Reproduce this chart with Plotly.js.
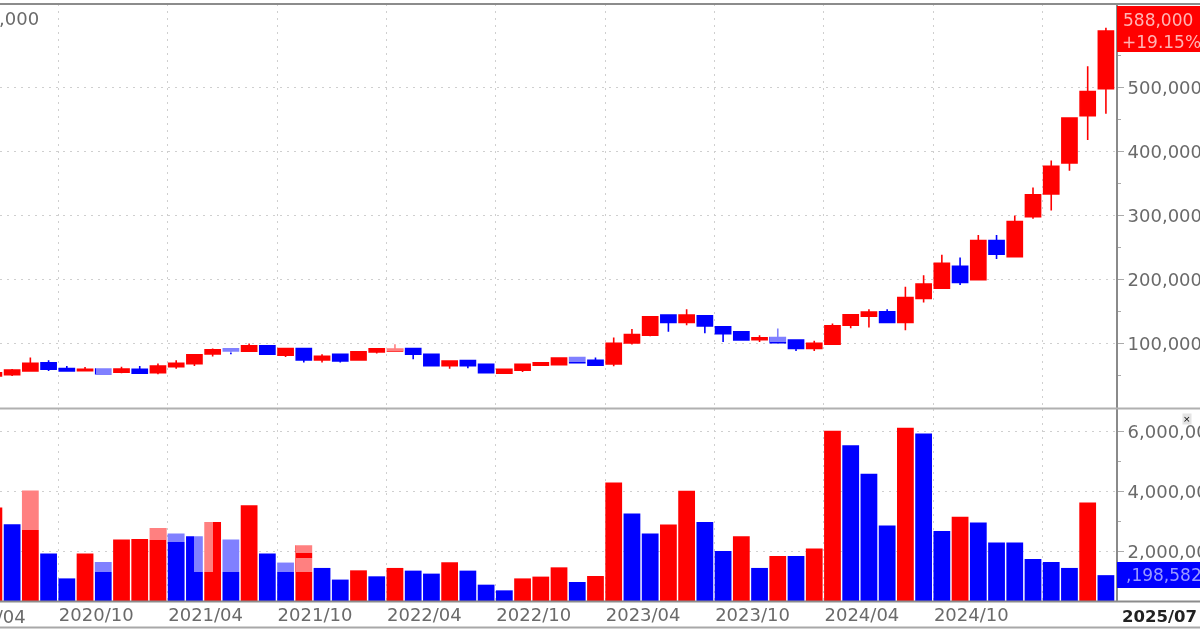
<!DOCTYPE html>
<html><head><meta charset="utf-8">
<script src="https://cdn.plot.ly/plotly-3.0.1.min.js"></script>
<style>html,body{margin:0;padding:0;background:#fff;overflow:hidden}#c{width:1200px;height:630px;filter:blur(.5px)}</style>
</head><body><div id="c"></div>
<script>
const months=["2020/06","2020/07","2020/08","2020/09","2020/10","2020/11","2020/12","2021/01","2021/02","2021/03","2021/04","2021/05","2021/06","2021/07","2021/08","2021/09","2021/10","2021/11","2021/12","2022/01","2022/02","2022/03","2022/04","2022/05","2022/06","2022/07","2022/08","2022/09","2022/10","2022/11","2022/12","2023/01","2023/02","2023/03","2023/04","2023/05","2023/06","2023/07","2023/08","2023/09","2023/10","2023/11","2023/12","2024/01","2024/02","2024/03","2024/04","2024/05","2024/06","2024/07","2024/08","2024/09","2024/10","2024/11","2024/12","2025/01","2025/02","2025/03","2025/04","2025/05","2025/06","2025/07"];
const openK=[50,52,57.8,70.3,61.4,58.3,60.9,55.8,60.5,55.2,64.5,69.2,84.4,92.2,88.6,96.9,82.3,92.7,75,83.9,75,87.5,89,92.7,83.9,66,74,68.3,54.2,58.9,66.7,67.7,78.6,74.5,68.8,101.6,113.6,144.8,133.3,143.8,126.6,119,106.7,109.9,105.8,92.7,99.5,129,143.3,150,133.3,170.8,187,220.8,200,261,236,298.4,333.9,382.3,456,498];
const highK=[56,61,78.6,74.5,65.6,64,61.5,64.5,65.6,69.2,74.5,83.5,92.7,92.5,100.5,97,93,93,83.9,84.5,88,93,99.5,93,84.5,74,74.5,69,61,69,71,78,79,78.6,109.9,123,143,146,154,145,128,120,113.6,124,106,104.7,131.7,146,154,154,189,207,239,234.8,269.8,269.8,300,344,386,453,532.8,593];
const lowK=[49,50,57,57.8,57,56.8,53,54.2,53,52.6,61.4,65.6,80.2,83.9,88,83.9,79.7,70.8,70.8,71,74,84.8,88,76,66,61.4,62,55,53,56,66,67,70,66,65,99,112,119,129,116.7,103,105,103,102,89,89,99,124.5,125.5,133,121.4,164.5,186,191.7,199,232.3,235,295,307.8,370,418,459];
const closeK=[55,59,69.8,60.5,57.8,60.5,53.6,60.9,54.2,65.6,69.8,82.8,90.6,89,96.9,83.9,92.7,75,80.8,73.4,87.5,92.2,92,83.9,66,73.4,66,55.2,60.5,68.3,70.3,77.7,70.8,66.7,101,114.5,142.2,133.3,144.8,128,116,106,109.4,102,92.7,101,128,145.3,149.5,133.3,172.3,193.3,225.5,195.8,261,240,290.6,332.3,377,452,493.3,588];
const volumeM=[3.46,2.90,4.02,1.92,1.09,1.92,1.64,2.39,2.41,2.78,2.59,2.50,2.98,2.39,3.54,1.92,1.62,2.20,1.44,1.05,1.36,1.16,1.44,1.35,1.25,1.63,1.35,0.88,0.69,1.09,1.15,1.46,0.97,1.17,4.30,3.26,2.59,2.89,4.02,2.98,2.01,2.50,1.44,1.84,1.84,2.09,6.03,5.55,4.59,2.86,6.13,5.94,2.68,3.15,2.96,2.29,2.29,1.74,1.64,1.44,3.63,1.198582];
const volumeUp=[1,0,1,0,0,1,0,1,1,1,0,0,1,0,1,0,0,1,0,0,1,0,1,0,0,1,0,0,0,1,1,1,0,1,1,0,0,1,1,0,0,1,0,1,0,1,1,0,0,0,1,0,0,1,0,0,0,0,0,0,1,0];
const tickMonths=["2020/10","2021/04","2021/10","2022/04","2022/10","2023/04","2023/10","2024/04","2024/10","2025/04"];
const tickLabels=["2020/10","2021/04","2021/10","2022/04","2022/10","2023/04","2023/10","2024/04","2024/10",""];
const priceTicks=[100000,200000,300000,400000,500000];
const priceMinor=[50000,150000,250000,350000,450000,550000];
const volTicks=[2000000,4000000,6000000];
const volMinor=[3000000,5000000];

const RED='#ff0000',BLUE='#0000ff',GRID='#cfcfcf',TXT='#6a6a6a',AXIS='#8a8a8a';
const FONT='"DejaVu Sans", sans-serif';
const idx=months.map((_,i)=>i);
const W=1200,H=630,L=0,R=84,T=4,B=28,pw=W-L-R,ph=H-T-B;
const px=x=>(x-L)/pw, py=y=>1-(y-T)/ph;
const fmt=v=>v.toLocaleString('en-US');

const pale=(x0,x1,y0,y1)=>({type:'rect',xref:'paper',yref:'paper',x0:px(x0),x1:px(x1),y0:py(y1),y1:py(y0),fillcolor:'#fff',opacity:.5,line:{width:0}});
const hline=(y,c,w)=>({type:'line',xref:'paper',yref:'paper',x0:px(0),x1:px(W),y0:py(y),y1:py(y),line:{color:c,width:w}});
const box=(y0,y1,c)=>({type:'rect',xref:'paper',yref:'paper',x0:px(1117),x1:px(W+2),y0:py(y1),y1:py(y0),fillcolor:c,line:{width:0}});
const note=(x,y,text,extra)=>Object.assign({xref:'paper',yref:'paper',x:px(x),y:py(y),text,showarrow:false,xanchor:'left',yanchor:'middle',font:{family:FONT,size:18,color:TXT}},extra||{});

const shapes=[
 pale(22,39,491,530),pale(95,113,560,572),pale(148,166,527,540),pale(168,185,533,542),
 pale(194,213,520,572),pale(221,240,520,572),pale(277,295,562,572),pale(296,313,545,553),pale(296,313,558,572),
 pale(96,113,367,374),pale(222,240,346,353),pale(386,403,342,351),pale(569,586,355,362),pale(770,787,326,342),
 box(6,52,RED),box(562,588,BLUE),
 hline(4,'#8c8c8c',2),hline(408.5,'#b0b0b0',2),hline(601.5,'#8c8c8c',2),hline(627.5,'#a8a8a8',2)
];
const annotations=[
 note(-51,616,'2020/04'),
 note(1120,616,'2025/07',{font:{family:FONT,size:16.5,color:'#222',weight:'bold'}}),
 note(-3,19,',000'),
 note(1121,20,'588,000',{font:{family:FONT,size:17,color:'#ffb4b4'}}),
 note(1120,42,'+19.15%',{font:{family:FONT,size:17,color:'#ffb4b4'}}),
 note(1124,575,',198,582',{font:{family:FONT,size:17,color:'#9a9aff'}}),
 note(1187,419,'×',{xanchor:'center',font:{family:FONT,size:9,color:'#000'},bgcolor:'#e4e4e4',borderpad:0})
];
const traces=[
 {type:'candlestick',x:idx,open:openK.map(v=>v*1000),high:highK.map(v=>v*1000),low:lowK.map(v=>v*1000),close:closeK.map(v=>v*1000),xaxis:'x',yaxis:'y',whiskerwidth:0,
  increasing:{line:{color:RED,width:1.6},fillcolor:RED},decreasing:{line:{color:BLUE,width:1.6},fillcolor:BLUE},showlegend:false,hoverinfo:'skip'},
 {type:'bar',x:idx,y:volumeM.map(v=>v*1e6),xaxis:'x',yaxis:'y2',width:.92,marker:{color:volumeUp.map(u=>u?RED:BLUE),line:{width:0}},showlegend:false,hoverinfo:'skip'}
];
const yCommon={side:'right',anchor:'x',showline:true,linecolor:AXIS,linewidth:2,ticks:'outside',ticklen:6,tickwidth:1,tickcolor:'#aaa',
  tickfont:{family:FONT,size:18,color:TXT},showgrid:true,gridcolor:GRID,griddash:'2px,5px',gridwidth:1,zeroline:false,tickmode:'array',automargin:false};
const layout={width:W,height:H,margin:{l:L,r:R,t:T,b:B,pad:0},paper_bgcolor:'#fff',plot_bgcolor:'#fff',showlegend:false,boxgap:.17,boxgroupgap:0,bargap:.08,
 xaxis:{range:[.335,61.553],anchor:'y2',tickmode:'array',tickvals:tickMonths.map(m=>months.indexOf(m)-.47),ticktext:tickLabels,ticklabelshift:38,
   ticks:'',showline:false,showgrid:true,gridcolor:GRID,griddash:'2px,5px',zeroline:false,rangeslider:{visible:false},
   tickfont:{family:FONT,size:18,color:TXT},automargin:false,ticklabeloverflow:'allow'},
 yaxis:Object.assign({},yCommon,{domain:[py(408),1],range:[0,630000],tickvals:priceTicks,ticktext:priceTicks.map(fmt),
   minor:{tickmode:'array',tickvals:priceMinor,ticks:'outside',ticklen:3,tickcolor:'#aaa',showgrid:false}}),
 yaxis2:Object.assign({},yCommon,{domain:[0,py(409)],range:[300000,6760000],tickvals:volTicks,ticktext:volTicks.map(fmt),
   minor:{tickmode:'array',tickvals:volMinor,ticks:'outside',ticklen:3,tickcolor:'#aaa',showgrid:false}}),
 shapes,annotations
};
Plotly.newPlot('c',traces,layout,{displayModeBar:false,staticPlot:true});
</script></body></html>
